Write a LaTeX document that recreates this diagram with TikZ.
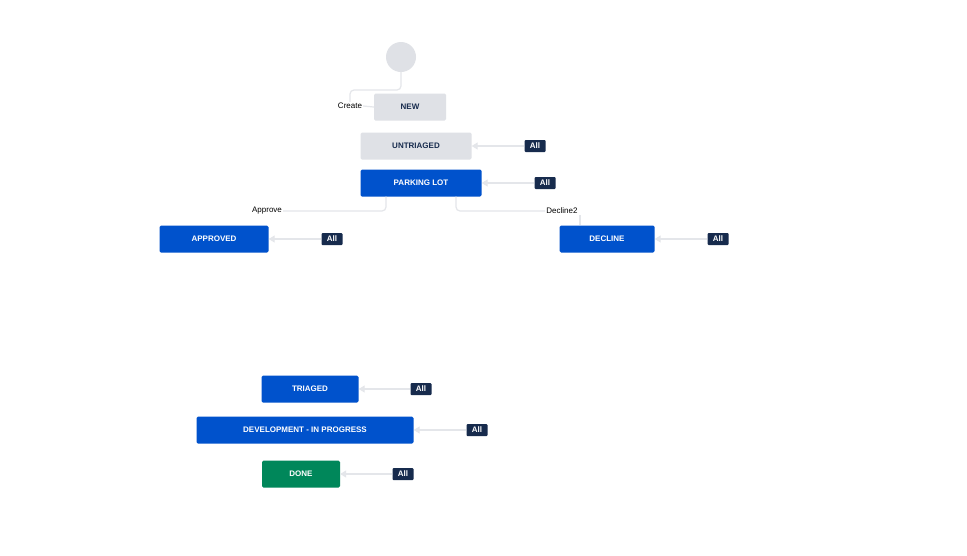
\documentclass[tikz,border=0pt]{standalone}
\usepackage{fontspec}
\setmainfont{Liberation Sans}
\usetikzlibrary{arrows.meta}
\definecolor{jblue}{HTML}{0052CC}
\definecolor{jgray}{HTML}{DFE1E6}
\definecolor{jgreen}{HTML}{00875A}
\definecolor{jnavy}{HTML}{172B4D}
\definecolor{jline}{HTML}{E4E6EA}
\tikzset{
 st/.style={rounded corners=1.5pt,minimum height=27pt,font=\bfseries\fontsize{8}{9}\selectfont,inner sep=0pt},
 bluest/.style={st,fill=jblue,text=white},
 grayst/.style={st,fill=jgray,text=jnavy},
 greenst/.style={st,fill=jgreen,text=white},
 allb/.style={fill=jnavy,text=white,rounded corners=1pt,font=\bfseries\fontsize{8}{9}\selectfont,inner sep=1.5pt,minimum width=21pt,minimum height=12pt},
 lbl/.style={font=\fontsize{8}{9}\selectfont,text=black,inner sep=1pt},
 conn/.style={draw=jline,line width=1.2pt,rounded corners=4pt},
 arr/.style={conn,-{Triangle[length=6pt,width=7pt]}}
}
\begin{document}
\begin{tikzpicture}[x=1pt,y=-1pt]
\useasboundingbox[fill=white] (0,0) rectangle (967,555);
\node[circle,fill=jgray,minimum size=30pt,inner sep=0pt] (start) at (401,57) {};
\node[grayst,minimum width=72pt] (new) at (410,107) {NEW};
\node[lbl] (create) at (350,106) {Create};
\node[grayst,minimum width=111pt] (untr) at (416,146) {UNTRIAGED};
\node[bluest,minimum width=121pt] (park) at (421,183) {PARKING LOT};
\node[bluest,minimum width=109pt] (appr) at (214,239) {APPROVED};
\node[bluest,minimum width=95pt] (decl) at (607,239) {DECLINE};
\node[lbl] (approve) at (267,211) {Approve};
\node[lbl] (decl2) at (562,211) {Decline2};
\node[bluest,minimum width=97pt] (tri) at (310,389) {TRIAGED};
\node[bluest,minimum width=217pt] (dev) at (305,430) {DEVELOPMENT - IN PROGRESS};
\node[greenst,minimum width=78pt] (done) at (301,474) {DONE};
\node[allb] (a1) at (535,146) {All};
\node[allb] (a2) at (545,183) {All};
\node[allb] (a3) at (332,239) {All};
\node[allb] (a4) at (718,239) {All};
\node[allb] (a5) at (421,389) {All};
\node[allb] (a6) at (477,430) {All};
\node[allb] (a7) at (403,474) {All};
\draw[conn] (start.south) |- (350,90) -- (create.north -| 350,0);
\draw[conn] (create.east) -- (new.west);
\draw[conn] (park.south -| 386,0) |- (approve.east);
\draw[conn] (park.south -| 456,0) |- (decl2.west);
\draw[conn] (decl2.south -| 580,0) -- (decl.north -| 580,0);
\foreach \a/\s in {a1/untr,a2/park,a3/appr,a4/decl,a5/tri,a6/dev,a7/done}
 \draw[arr] (\a.west) -- (\s.east);
\end{tikzpicture}
\end{document}
